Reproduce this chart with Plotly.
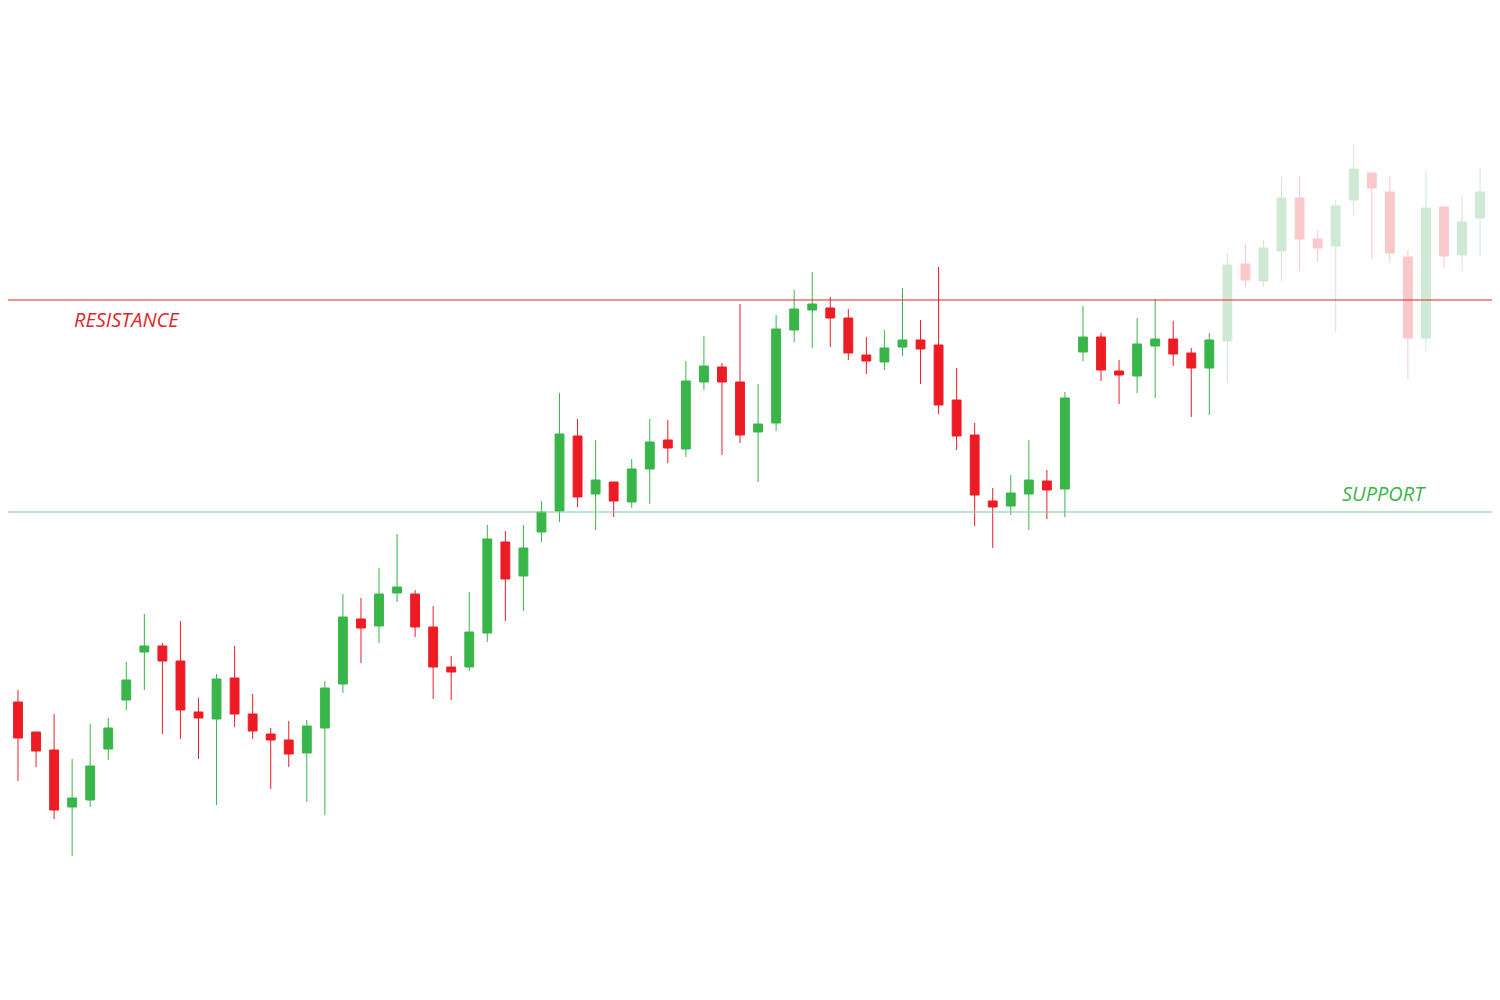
import plotly.graph_objects as go

# candle prices (first 67 solid, last 15 faded)
opens = [298, 268, 250, 193, 200, 251, 300, 348, 354, 339, 288, 281, 322, 286, 266, 260, 247, 272,
         316, 381, 374, 407, 406, 373, 333, 333, 367, 458, 424, 468, 489, 564, 506, 518, 498, 531,
         560, 551, 618, 633, 618, 568, 577, 670, 690, 692, 682, 645, 638, 653, 660, 655, 600, 565,
         499, 494, 506, 519, 511, 648, 663, 629, 624, 654, 661, 647, 632,
         659, 736, 719, 749, 802, 761, 754, 800, 827, 808, 743, 662, 793, 745, 782]
highs = [310, 268, 286, 241, 276, 282, 338, 386, 357, 379, 302, 326, 354, 306, 272, 279, 280, 319,
         406, 402, 432, 466, 410, 394, 344, 408, 475, 469, 475, 499, 607, 581, 560, 518, 541, 581,
         580, 639, 664, 637, 696, 616, 685, 710, 728, 703, 691, 663, 670, 712, 680, 733, 632, 577,
         512, 525, 560, 530, 608, 694, 667, 640, 682, 701, 679, 652, 667,
         747, 756, 760, 823, 824, 770, 800, 855, 828, 824, 750, 830, 793, 804, 832]
lows = [219, 233, 181, 144, 193, 240, 290, 310, 266, 261, 241, 195, 273, 261, 211, 233, 198, 185,
        307, 337, 357, 398, 363, 301, 300, 329, 358, 379, 389, 458, 478, 493, 470, 483, 492, 496,
        537, 543, 610, 545, 557, 518, 569, 658, 652, 653, 640, 626, 630, 644, 616, 586, 550, 474,
        452, 485, 470, 481, 483, 639, 619, 596, 607, 602, 634, 583, 585,
        617, 713, 713, 719, 729, 738, 668, 784, 741, 737, 621, 649, 732, 729, 744]
closes = [262, 249, 190, 202, 234, 272, 320, 354, 339, 290, 282, 321, 286, 269, 260, 246, 274, 312,
          383, 372, 406, 413, 373, 333, 328, 368, 461, 421, 452, 488, 566, 503, 520, 499, 531, 558,
          552, 619, 634, 618, 565, 576, 671, 691, 696, 682, 647, 639, 652, 660, 651, 595, 564, 505,
          493, 507, 520, 510, 602, 663, 630, 625, 656, 661, 646, 632, 660,
          735, 720, 752, 802, 761, 752, 794, 831, 812, 747, 662, 792, 744, 778, 808]

resistance = 700
support = 488
n_solid = 67

x = list(range(len(opens)))

RED = '#ed1c24'
GREEN = '#39b54a'

fig = go.Figure()

fig.add_trace(go.Candlestick(
    x=x[:n_solid], open=opens[:n_solid], high=highs[:n_solid],
    low=lows[:n_solid], close=closes[:n_solid],
    increasing=dict(line=dict(color=GREEN, width=1), fillcolor=GREEN),
    decreasing=dict(line=dict(color=RED, width=1), fillcolor=RED),
    whiskerwidth=0, showlegend=False))

fig.add_trace(go.Candlestick(
    x=x[n_solid:], open=opens[n_solid:], high=highs[n_solid:],
    low=lows[n_solid:], close=closes[n_solid:],
    increasing=dict(line=dict(color='#cfe9d4', width=1), fillcolor='#cfe9d4'),
    decreasing=dict(line=dict(color='#f8c8ca', width=1), fillcolor='#f8c8ca'),
    whiskerwidth=0, showlegend=False))

fig.add_hline(y=resistance, line=dict(color='#e0262c', width=1.2))
fig.add_hline(y=support, line=dict(color='#7fd09c', width=1.2))

# page body has an 8px margin, so the figure is 1484x984 and positions are shifted
fig.add_annotation(x=(127 - 8) / 1484, y=681, xref='paper', yref='y', text='RESISTANCE',
                   xanchor='center', showarrow=False,
                   font=dict(family='Open Sans', size=20, color='#e0262c', style='italic'))
fig.add_annotation(x=(1384 - 8) / 1484, y=507, xref='paper', yref='y', text='SUPPORT',
                   xanchor='center', showarrow=False,
                   font=dict(family='Open Sans', size=20, color='#39b54a', style='italic'))

fig.update_layout(
    width=1484, height=984,
    margin=dict(l=0, r=0, t=0, b=0),
    plot_bgcolor='white', paper_bgcolor='white',
    xaxis=dict(visible=False, range=[-0.554, 81.66], rangeslider_visible=False),
    yaxis=dict(visible=False, range=[8, 992]))

fig.write_html("out.html")
